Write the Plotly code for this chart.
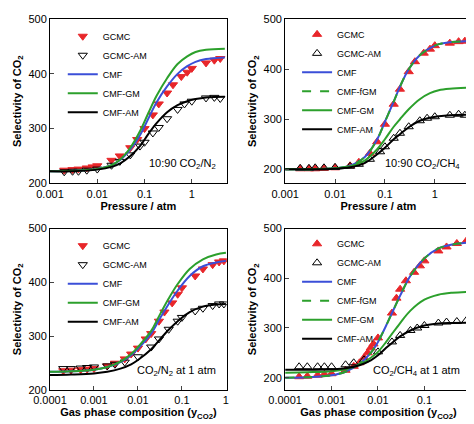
import plotly.graph_objects as go
from plotly.subplots import make_subplots
import math

RED = "#e8262a"; BLUE = "#3b4fd8"; GREEN = "#2ca02c"

# Panel A: 10:90 CO2/N2 vs pressure
a_x = [0.001, 0.003, 0.01, 0.02, 0.03, 0.05, 0.08, 0.12, 0.18, 0.3, 0.5, 0.8, 1.2, 2, 5]
a_cmf = [222, 223, 226, 233, 242, 262, 288, 318, 348, 377, 400, 414, 422, 427, 430]
a_gm = [222, 223, 226, 233, 243, 265, 295, 328, 360, 392, 418, 432, 440, 444, 446]
a_am = [222, 222, 225, 230, 236, 250, 268, 290, 310, 330, 343, 350, 354, 357, 358]
a_gx = [0.002, 0.003, 0.004, 0.006, 0.008, 0.01, 0.02, 0.03, 0.05, 0.07, 0.1, 0.15, 0.2, 0.3, 0.4, 0.6, 0.8, 1, 2, 3, 4]
a_g = [224, 225, 226, 228, 230, 232, 242, 250, 265, 280, 300, 325, 345, 365, 380, 395, 403, 410, 420, 425, 428]
a_amx = [0.002, 0.003, 0.004, 0.006, 0.01, 0.02, 0.03, 0.05, 0.08, 0.1, 0.15, 0.2, 0.3, 0.5, 0.7, 1, 2, 3, 4]
a_am_g = [221, 222, 222, 224, 226, 233, 240, 252, 268, 275, 292, 302, 318, 335, 345, 350, 356, 357, 355]

# Panel B: 10:90 CO2/CH4 vs pressure
b_x = [0.001, 0.003, 0.01, 0.02, 0.04, 0.07, 0.1, 0.15, 0.2, 0.3, 0.5, 0.8, 1.2, 2, 5]
b_cmf = [200, 200, 202, 207, 225, 260, 295, 335, 365, 400, 428, 442, 450, 454, 456]
b_gm = [200, 200, 202, 206, 218, 240, 260, 285, 300, 320, 340, 352, 358, 361, 363]
b_am = [200, 200, 201, 204, 213, 230, 243, 260, 270, 284, 297, 303, 306, 308, 309]
b_gx = [0.002, 0.003, 0.004, 0.006, 0.01, 0.02, 0.03, 0.05, 0.07, 0.1, 0.15, 0.2, 0.3, 0.4, 0.6, 0.8, 1, 2, 3, 4]
b_g = [201, 201, 201, 202, 203, 207, 214, 232, 255, 290, 330, 360, 395, 415, 432, 440, 447, 452, 455, 456]
b_amx = [0.002, 0.003, 0.004, 0.006, 0.01, 0.02, 0.03, 0.05, 0.08, 0.1, 0.15, 0.2, 0.3, 0.5, 0.7, 1, 2, 3, 4]
b_am_g = [202, 202, 203, 203, 204, 206, 210, 220, 235, 245, 262, 272, 285, 297, 302, 305, 308, 310, 308]

# Panel C: CO2/N2 at 1 atm vs composition
c_x = [0.0001, 0.0003, 0.001, 0.002, 0.004, 0.007, 0.01, 0.02, 0.03, 0.05, 0.08, 0.15, 0.3, 0.6, 1]
c_cmf = [234, 235, 238, 243, 252, 265, 277, 305, 330, 360, 385, 412, 430, 437, 440]
c_gm = [234, 235, 238, 243, 253, 267, 280, 310, 337, 370, 397, 425, 443, 452, 455]
c_am = [228, 229, 231, 234, 240, 248, 256, 276, 292, 312, 328, 345, 355, 359, 360]
c_gx = [0.0002, 0.0003, 0.0005, 0.0007, 0.001, 0.002, 0.003, 0.005, 0.007, 0.01, 0.015, 0.02, 0.03, 0.04, 0.06, 0.08, 0.1, 0.2, 0.3, 0.5, 0.7, 0.9]
c_g = [236, 237, 238, 239, 240, 245, 250, 258, 267, 278, 295, 305, 328, 345, 362, 378, 390, 412, 425, 433, 438, 440]
c_amx = [0.0002, 0.0003, 0.0005, 0.0007, 0.001, 0.002, 0.003, 0.005, 0.01, 0.02, 0.03, 0.05, 0.08, 0.1, 0.2, 0.3, 0.5, 0.7, 0.9]
c_am_g = [240, 240, 241, 242, 243, 245, 248, 252, 262, 280, 295, 313, 328, 335, 347, 352, 357, 360, 360]

# Panel D: CO2/CH4 at 1 atm vs composition
d_x = [0.0001, 0.0003, 0.001, 0.002, 0.004, 0.007, 0.01, 0.015, 0.02, 0.03, 0.05, 0.1, 0.2, 0.4, 1]
d_cmf = [200, 201, 205, 212, 228, 250, 272, 305, 330, 365, 405, 440, 460, 468, 472]
d_gm = [210, 211, 213, 217, 226, 240, 252, 272, 288, 310, 335, 357, 367, 371, 373]
d_am = [216, 216, 217, 219, 225, 235, 245, 260, 270, 283, 295, 305, 309, 310, 311]
d_gx = [0.0002, 0.0003, 0.0005, 0.0007, 0.001, 0.002, 0.003, 0.004, 0.005, 0.006, 0.007, 0.008, 0.01, 0.02, 0.025, 0.03, 0.04, 0.06, 0.08, 0.1, 0.2, 0.3, 0.5, 0.8]
d_g = [202, 203, 205, 207, 208, 215, 223, 230, 240, 250, 260, 268, 280, 330, 360, 378, 395, 412, 425, 435, 455, 463, 470, 475]
d_amx = [0.0002, 0.0003, 0.0005, 0.0007, 0.001, 0.002, 0.003, 0.005, 0.01, 0.02, 0.03, 0.05, 0.07, 0.1, 0.2, 0.3, 0.5, 0.8]
d_am_g = [222, 222, 222, 222, 222, 226, 230, 236, 252, 272, 285, 295, 300, 305, 310, 312, 313, 315]

fig = make_subplots(rows=2, cols=2)

def line(x, y, color, name, r, c, dash="solid"):
    fig.add_trace(go.Scatter(x=x, y=y, mode="lines", name=name,
                             line=dict(color=color, width=2, dash=dash, shape="spline")), row=r, col=c)

def pts(x, y, sym, color, name, r, c, fill):
    fig.add_trace(go.Scatter(x=x, y=y, mode="markers", name=name,
                             marker=dict(symbol=sym, size=8, color=color if fill else "rgba(0,0,0,0)",
                                         line=dict(color=color if fill else "black", width=1))), row=r, col=c)

panels = [
    (1, 1, "triangle-down", a_x, a_cmf, a_gm, a_am, a_gx, a_g, a_amx, a_am_g, False),
    (1, 2, "triangle-up", b_x, b_cmf, b_gm, b_am, b_gx, b_g, b_amx, b_am_g, True),
    (2, 1, "triangle-down", c_x, c_cmf, c_gm, c_am, c_gx, c_g, c_amx, c_am_g, False),
    (2, 2, "triangle-up", d_x, d_cmf, d_gm, d_am, d_gx, d_g, d_amx, d_am_g, True),
]
legs = {(1, 1): "legend", (1, 2): "legend2", (2, 1): "legend3", (2, 2): "legend4"}
for r, c, sym, x, cmf, gm, am, gx, g, amx, amg, fgm in panels:
    n0 = len(fig.data)
    pts(gx, g, sym, RED, "GCMC", r, c, True)
    pts(amx, amg, sym, "black", "GCMC-AM", r, c, False)
    line(x, cmf, BLUE, "CMF", r, c)
    if fgm:
        line(x, cmf, GREEN, "CMF-fGM", r, c, dash="dash")
    line(x, gm, GREEN, "CMF-GM", r, c)
    line(x, am, "black", "CMF-AM", r, c)
    for t in fig.data[n0:]:
        t.legend = legs[(r, c)]
        t.showlegend = True

ax = dict(type="log", showline=True, mirror=True, linecolor="black", linewidth=1, ticks="inside",
          ticklen=4, showgrid=False, zeroline=False, tickfont=dict(size=11, color="black"))
ay = dict(showline=True, mirror=True, linecolor="black", linewidth=1, ticks="inside", ticklen=4,
          showgrid=False, zeroline=False, tickfont=dict(size=11, color="black"), dtick=100,
          title=dict(text="<b>Selectivity of CO<sub>2</sub></b>", font=dict(size=11, color="black"), standoff=4))
fig.update_xaxes(**ax)
fig.update_yaxes(**ay)
fig.update_xaxes(range=[-3, math.log10(5.5)], tickvals=[0.001, 0.01, 0.1, 1], ticktext=["0.001", "0.01", "0.1", "1"],
                 title=dict(text="<b>Pressure / atm</b>", font=dict(size=11, color="black"), standoff=2), row=1)
fig.update_xaxes(range=[-4, 0.02], tickvals=[0.0001, 0.001, 0.01, 0.1, 1], ticktext=["0.0001", "0.001", "0.01", "0.1", "1"],
                 title=dict(text="<b>Gas phase composition (y<sub>CO2</sub>)</b>", font=dict(size=11, color="black"), standoff=2), row=2)
fig.update_xaxes(domain=[0.0, 0.415], col=1)
fig.update_xaxes(domain=[0.552, 0.99], col=2)
fig.update_yaxes(domain=[0.558, 0.997], row=1)
fig.update_yaxes(domain=[0.005, 0.437], row=2)
fig.update_yaxes(range=[200, 500], row=1, col=1)
fig.update_yaxes(range=[172, 500], row=1, col=2)
fig.update_yaxes(range=[200, 500], row=2, col=1)
fig.update_yaxes(range=[175, 500], row=2, col=2)

legbase = dict(bgcolor="rgba(0,0,0,0)", font=dict(size=9, color="black"), tracegroupgap=0, itemwidth=30,
               yanchor="top", xanchor="left")
fig.update_layout(
    width=474, height=424, margin=dict(l=42, r=6, t=4, b=40), plot_bgcolor="white", paper_bgcolor="white",
    font=dict(family="Liberation Sans, Arial", color="black"),
    legend=dict(x=0.03, y=0.99, **legbase),
    legend2=dict(x=0.58, y=0.995, **legbase),
    legend3=dict(x=0.03, y=0.43, **legbase),
    legend4=dict(x=0.58, y=0.435, **legbase),
)
for txt, xr, yr in [("10:90 CO<sub>2</sub>/N<sub>2</sub>", "x", "y"),
                    ("10:90 CO<sub>2</sub>/CH<sub>4</sub>", "x2", "y2"),
                    ("CO<sub>2</sub>/N<sub>2</sub> at 1 atm", "x3", "y3"),
                    ("CO<sub>2</sub>/CH<sub>4</sub> at 1 atm", "x4", "y4")]:
    fig.add_annotation(text=txt, xref=xr + " domain", yref=yr + " domain", x=0.95, y=0.06,
                       xanchor="right", yanchor="bottom", showarrow=False, font=dict(size=11, color="black"))
fig.write_html("out.html")
